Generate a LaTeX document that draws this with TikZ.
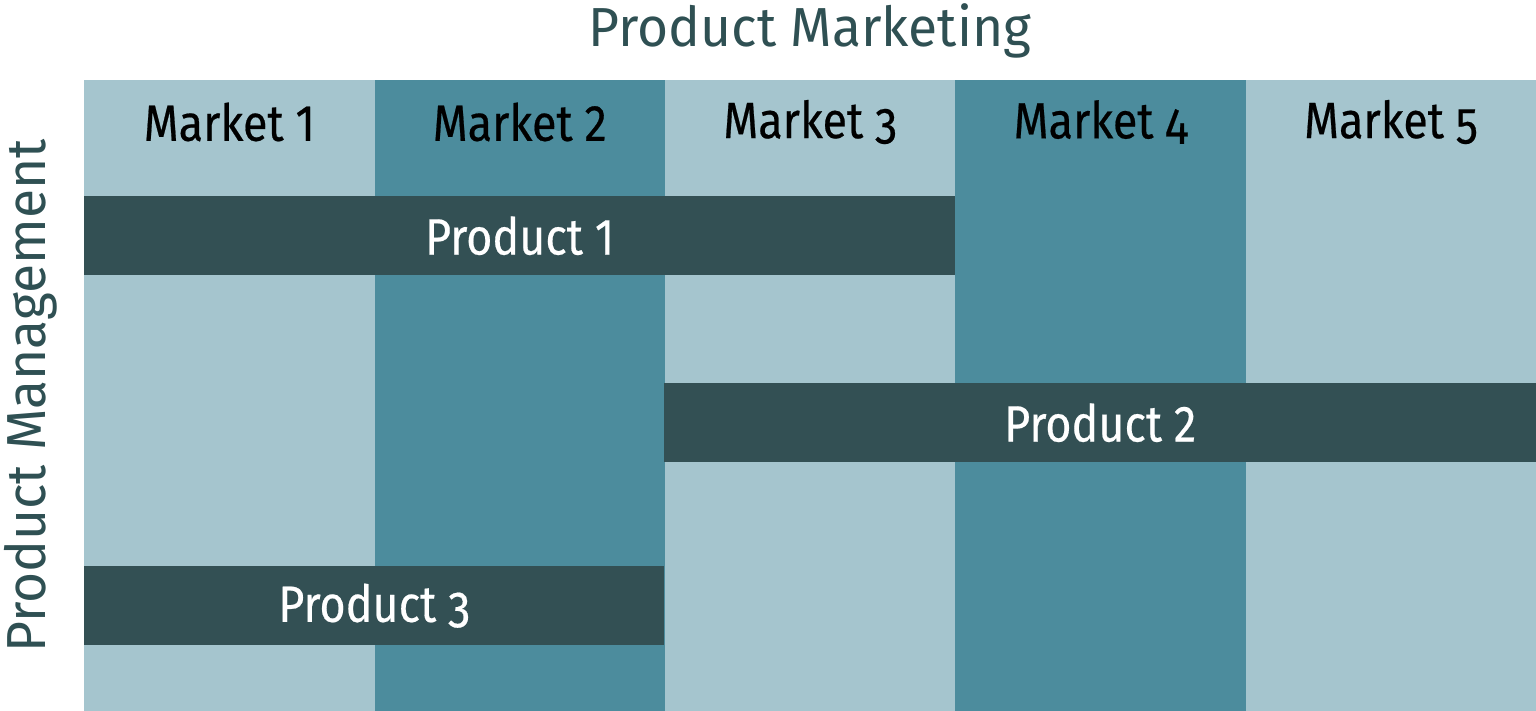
\documentclass[tikz,border=0pt]{standalone}
\usepackage{fontspec}
\setmainfont{Fira Sans}
\newfontfamily\labelfont[FakeStretch=0.88, FakeBold=0.4]{Fira Sans}
\newfontfamily\titlefont[FakeStretch=0.97]{Fira Sans}
\usetikzlibrary{positioning}

\definecolor{lightcol}{HTML}{A5C5CE}
\definecolor{darkcol}{HTML}{4C8C9D}
\definecolor{barcol}{HTML}{335054}
\definecolor{titlecol}{HTML}{2F5053}
\newcommand{\onum}{\addfontfeatures{Numbers=OldStyle}}

\tikzset{
  column/.style={fill=#1, draw=none, anchor=north west, inner sep=0pt,
    minimum width=290.4pt, minimum height=631pt},
  marketlabel/.style={text=black, font=\labelfont\fontsize{51}{60}\selectfont},
  productbar/.style={fill=barcol, anchor=north west, inner sep=0pt,
    minimum height=79pt, text=white, font=\labelfont\fontsize{51}{60}\selectfont},
  axistitle/.style={text=titlecol, font=\titlefont\fontsize{55}{64}\selectfont}
}

\begin{document}
\begin{tikzpicture}[x=1pt, y=-1pt]
    \useasboundingbox (0,0) rectangle (1536,711);

    % --- Draw market columns ---
    \foreach \i/\col/\num in {1/lightcol/1, 2/darkcol/2, 3/lightcol/{\onum 3},
                              4/darkcol/{\onum 4}, 5/lightcol/{\onum 5}}{
        \node[column=\col] (c\i) at ({84+(\i-1)*290.4},80) {};
        \node[marketlabel] (m\i) at ([yshift=-42pt]c\i.north) {Market \num};
    }
    % ---

    % --- Draw product bars ---
    \node[productbar, minimum width=871pt] (p1) at (84,196) {Product 1};
    \node[productbar, minimum width=872pt] (p2) at (664,383) {Product 2};
    \node[productbar, minimum width=580pt] (p3) at (84,566) {Product {\onum 3}};
    % ---

    % --- Axis titles ---
    \node[axistitle] (pmk) at (810,31) {Product Marketing};
    \node[axistitle, rotate=90] (pmg) at (31,396) {Product Management};
    % ---
\end{tikzpicture}
\end{document}
